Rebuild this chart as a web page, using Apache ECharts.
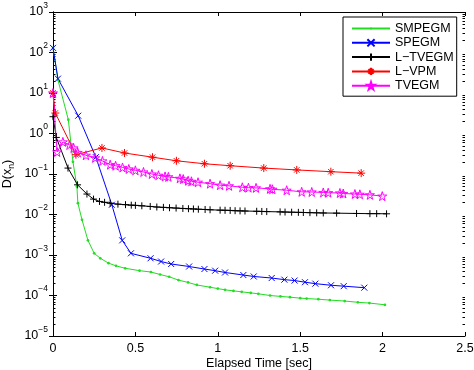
<!DOCTYPE html>
<html>
<head>
<meta charset="utf-8">
<script src="https://cdn.jsdelivr.net/npm/echarts@6/dist/echarts.min.js"></script>
<style>
html,body{margin:0;padding:0;background:#fff;}
#chart{width:474px;height:370px;}
</style>
</head>
<body>
<div id="chart"></div>
<script>
// ---- data (elapsed time [sec], D(x_n)) ----
const seriesNames = ['SMPEGM', 'SPEGM', 'L\u2212TVEGM', 'L\u2212VPM', 'TVEGM'];

const smpegmX = [0, 0.03, 0.093, 0.121, 0.145, 0.151, 0.176, 0.212, 0.25, 0.287, 0.337, 0.382, 0.438, 0.525, 0.594, 0.65, 0.705, 0.761, 0.82, 0.873, 0.953, 1.0, 1.044, 1.095, 1.145, 1.2, 1.246, 1.317, 1.38, 1.438, 1.5, 1.539, 1.61, 1.68, 1.77, 1.85, 1.92, 2.014];
const smpegmY = [130, 21, 2.2, 0.2, 0.049, 0.019, 0.0074, 0.0023, 0.0011, 8.3e-4, 6.3e-4, 5.4e-4, 4.7e-4, 4.1e-4, 3.8e-4, 3.3e-4, 2.9e-4, 2.4e-4, 2.1e-4, 1.82e-4, 1.6e-4, 1.48e-4, 1.38e-4, 1.3e-4, 1.23e-4, 1.16e-4, 1.1e-4, 1.0e-4, 9.5e-5, 9.1e-5, 8.6e-5, 8.4e-5, 8.1e-5, 7.7e-5, 7.3e-5, 6.8e-5, 6.5e-5, 5.9e-5];

const spegmX = [0, 0.03, 0.153, 0.26, 0.357, 0.42, 0.473, 0.592, 0.656, 0.717, 0.826, 0.919, 0.984, 1.044, 1.155, 1.218, 1.327, 1.404, 1.466, 1.529, 1.592, 1.687, 1.764, 1.889];
const spegmY = [130, 22.6, 2.75, 0.26, 0.0174, 0.0023, 0.0011, 8.3e-4, 6.9e-4, 6.0e-4, 5.2e-4, 4.5e-4, 4.1e-4, 3.7e-4, 3.2e-4, 2.95e-4, 2.7e-4, 2.46e-4, 2.34e-4, 2.13e-4, 1.96e-4, 1.79e-4, 1.7e-4, 1.56e-4];

const ltvegmX = [0, 0.02, 0.091, 0.149, 0.206, 0.246, 0.282, 0.313, 0.347, 0.394, 0.44, 0.475, 0.5, 0.539, 0.59, 0.63, 0.67, 0.707, 0.747, 0.788, 0.822, 0.852, 0.882, 0.923, 0.953, 1.014, 1.044, 1.075, 1.105, 1.135, 1.165, 1.236, 1.267, 1.297, 1.378, 1.408, 1.448, 1.489, 1.519, 1.559, 1.6, 1.64, 1.721, 1.842, 1.923, 1.964, 2.024];
const ltvegmY = [2.6, 0.8, 0.14, 0.054, 0.032, 0.024, 0.021, 0.020, 0.019, 0.018, 0.0175, 0.017, 0.0168, 0.0164, 0.0158, 0.0153, 0.0150, 0.0147, 0.0144, 0.0141, 0.0139, 0.0137, 0.0135, 0.0133, 0.0131, 0.0128, 0.0127, 0.0126, 0.0124, 0.0123, 0.0122, 0.0120, 0.0119, 0.0118, 0.0116, 0.0115, 0.0114, 0.0113, 0.0112, 0.0111, 0.0110, 0.0109, 0.0108, 0.0106, 0.0105, 0.0105, 0.0104];

const lvpmX = [0, 0.014, 0.139, 0.297, 0.434, 0.604, 0.749, 0.919, 1.075, 1.279, 1.479, 1.686, 1.87];
const lvpmY = [10, 3.2, 0.3, 0.44, 0.33, 0.26, 0.212, 0.179, 0.16, 0.14, 0.126, 0.114, 0.105];

const tvegmX = [0, 0.025, 0.06, 0.1, 0.125, 0.15, 0.2, 0.256, 0.3, 0.347, 0.38, 0.422, 0.46, 0.5, 0.549, 0.6, 0.64, 0.68, 0.70, 0.77, 0.79, 0.82, 0.84, 0.88, 0.953, 1.014, 1.068, 1.149, 1.186, 1.232, 1.317, 1.331, 1.418, 1.509, 1.57, 1.64, 1.67, 1.741, 1.761, 1.832, 1.862, 1.923, 1.998];
const tvegmY = [10, 0.35, 0.62, 0.52, 0.44, 0.34, 0.29, 0.25, 0.21, 0.17, 0.16, 0.145, 0.133, 0.123, 0.112, 0.1, 0.093, 0.087, 0.085, 0.078, 0.075, 0.0683, 0.066, 0.0626, 0.0577, 0.053, 0.051, 0.047, 0.046, 0.0454, 0.043, 0.042, 0.0397, 0.0363, 0.036, 0.035, 0.0345, 0.034, 0.033, 0.032, 0.0315, 0.0306, 0.0284];

const xTicks = [0, 0.5, 1, 1.5, 2, 2.5];
const yDecades = [-5, -4, -3, -2, -1, 0, 1, 2, 3];

// ---- helpers ----
const FONT = 'Liberation Sans, Arial, Helvetica, sans-serif';
const pairs = (xs, ys) => xs.map((x, i) => [x, ys[i]]);
const SYM_DOT = 'path://M0,0M10,10M3.5,5A1.5,1.5 0 1,0 6.5,5A1.5,1.5 0 1,0 3.5,5Z';
const SYM_X = 'path://M0,0L10,10M10,0L0,10';
const SYM_PLUS = 'path://M5,0L5,10M0,5L10,5';
const SYM_AST = 'path://M5,0L5,10M0,5L10,5M1.6,1.6L8.4,8.4M8.4,1.6L1.6,8.4';
const SYM_STAR = 'path://M100,0L122.45,69.1L195.1,69.1L136.3,111.8L158.8,180.9L100,138.2L41.2,180.9L63.7,111.8L4.9,69.1L77.55,69.1Z';

// minor ticks at 2..9 x 10^k (axis decoration)
const minorTicks = [];
yDecades.slice(0, -1).forEach(k => { for (let m = 2; m <= 9; m++) minorTicks.push([0, m * Math.pow(10, k)]); });

const supLabel = v => {
  const e = Math.round(Math.log10(v));
  const s = e < 0 ? '\u2212' + (-e) : String(e);
  return '{b|10}{s|' + s + '}';
};

function lineSeries(name, data, color, symbol, size, filled) {
  return {
    name: name,
    type: 'line',
    data: data,
    symbol: symbol,
    symbolSize: size,
    showSymbol: true,
    color: color,
    lineStyle: { color: color, width: 1 },
    itemStyle: filled ? { color: color, borderWidth: 0 } : { color: 'none', borderColor: color, borderWidth: 1 },
    emphasis: { disabled: true },
    animation: false,
    z: 3
  };
}

const chart = echarts.init(document.getElementById('chart'), null, { renderer: 'canvas' });
const axisLine = { show: true, lineStyle: { color: '#000', width: 1 } };

chart.setOption({
  backgroundColor: '#fff',
  animation: false,
  textStyle: { fontFamily: FONT },
  grid: { left: 53, right: 9, top: 12, bottom: 34, containLabel: false, outerBoundsMode: 'none' },
  legend: {
    data: seriesNames,
    orient: 'vertical',
    left: 343,
    top: 17,
    padding: [5, 3, 4, 8],
    itemWidth: 38,
    itemHeight: 9,
    itemGap: 1.3,
    borderColor: '#000',
    borderWidth: 1,
    backgroundColor: '#fff',
    textStyle: { fontFamily: FONT, fontSize: 12.5, color: '#000' },
    selectedMode: false
  },
  xAxis: [
    {
      type: 'value', min: 0, max: 2.5, interval: 0.5, position: 'bottom',
      axisLine: axisLine,
      axisTick: { show: true, inside: true, length: 4, lineStyle: { color: '#000' } },
      axisLabel: { color: '#000', fontSize: 12.5, fontFamily: FONT, margin: 6,
        formatter: v => { const t = xTicks.find(a => Math.abs(a - v) < 1e-9); return t === undefined ? '' : String(t); } },
      splitLine: { show: false },
      name: 'Elapsed Time [sec]', nameLocation: 'middle', nameGap: 21, nameMoveOverlap: false,
      nameTextStyle: { color: '#000', fontSize: 12.5, fontFamily: FONT }
    },
    {
      type: 'value', min: 0, max: 2.5, interval: 0.5, position: 'top',
      axisLine: axisLine,
      axisTick: { show: true, inside: true, length: 4, lineStyle: { color: '#000' } },
      axisLabel: { show: false }, splitLine: { show: false }
    }
  ],
  yAxis: [
    {
      type: 'log', logBase: 10, min: 1e-5, max: 1e3, interval: 1, position: 'left',
      axisLine: axisLine,
      axisTick: { show: true, inside: true, length: 4, lineStyle: { color: '#000' } },
      axisLabel: {
        margin: 5, formatter: supLabel,
        rich: {
          b: { fontSize: 12.5, fontFamily: FONT, color: '#000', lineHeight: 22, verticalAlign: 'middle' },
          s: { fontSize: 8.5, fontFamily: FONT, color: '#000', lineHeight: 10, verticalAlign: 'top' }
        }
      },
      splitLine: { show: false },
      name: '{d|D(x}{n|n}{d|)}', nameLocation: 'middle', nameGap: 37, nameRotate: 90, nameMoveOverlap: false,
      nameTextStyle: {
        rich: {
          d: { fontSize: 12.5, fontFamily: FONT, color: '#000', lineHeight: 16, verticalAlign: 'middle' },
          n: { fontSize: 8.5, fontFamily: FONT, color: '#000', lineHeight: 9, verticalAlign: 'bottom' }
        }
      }
    },
    {
      type: 'log', logBase: 10, min: 1e-5, max: 1e3, interval: 1, position: 'right',
      axisLine: axisLine,
      axisTick: { show: true, inside: true, length: 4, lineStyle: { color: '#000' } },
      axisLabel: { show: false }, splitLine: { show: false }
    }
  ],
  series: [
    {
      type: 'custom', name: 'minorTicks', silent: true, z: 1,
      data: minorTicks,
      renderItem: function (params, api) {
        const y = Math.round(api.coord([0, api.value(1)])[1]) + 0.5;
        const cs = params.coordSys;
        return {
          type: 'group',
          children: [
            { type: 'line', shape: { x1: cs.x, y1: y, x2: cs.x + 2.5, y2: y }, style: { stroke: '#000', lineWidth: 1 } },
            { type: 'line', shape: { x1: cs.x + cs.width, y1: y, x2: cs.x + cs.width - 2.5, y2: y }, style: { stroke: '#000', lineWidth: 1 } }
          ]
        };
      },
      animation: false
    },
    lineSeries(seriesNames[0], pairs(smpegmX, smpegmY), '#22dd22', SYM_DOT, 9, true),
    lineSeries(seriesNames[1], pairs(spegmX, spegmY), '#0000ff', SYM_X, 6, false),
    lineSeries(seriesNames[2], pairs(ltvegmX, ltvegmY), '#000000', SYM_PLUS, 7, false),
    lineSeries(seriesNames[3], pairs(lvpmX, lvpmY), '#ff0000', SYM_AST, 8, false),
    lineSeries(seriesNames[4], pairs(tvegmX, tvegmY), '#ff00ff', SYM_STAR, 9, false)
  ]
});
</script>
</body>
</html>
